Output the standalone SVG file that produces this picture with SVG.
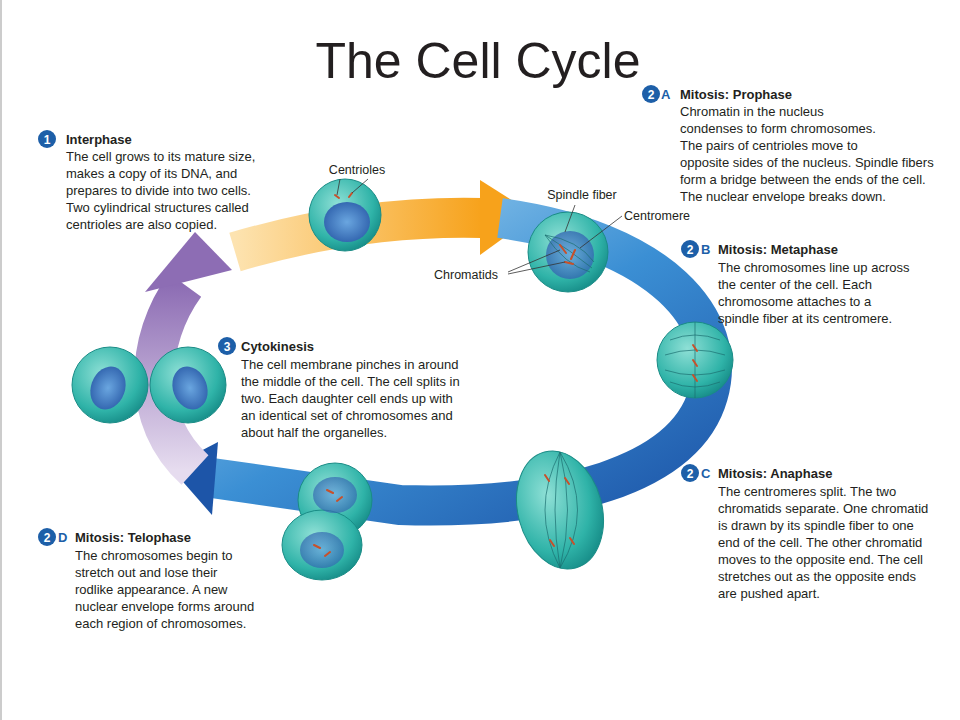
<svg xmlns="http://www.w3.org/2000/svg" width="960" height="720" viewBox="0 0 960 720">
<defs>
<linearGradient id="og" x1="0" y1="0" x2="1" y2="0"><stop offset="0" stop-color="#fde3b0"/><stop offset="1" stop-color="#f7a21b"/></linearGradient>
<linearGradient id="bg" x1="0" y1="0" x2="1" y2="1"><stop offset="0" stop-color="#a9d8f3"/><stop offset="0.5" stop-color="#3b8fd4"/><stop offset="1" stop-color="#1d55a8"/></linearGradient>
<linearGradient id="pg" x1="0" y1="1" x2="0" y2="0"><stop offset="0" stop-color="#e6dcef"/><stop offset="1" stop-color="#8d6db4"/></linearGradient>
<radialGradient id="cell" cx="0.4" cy="0.35" r="0.7"><stop offset="0" stop-color="#8fe0d6"/><stop offset="0.7" stop-color="#2fb3a8"/><stop offset="1" stop-color="#158a86"/></radialGradient>
<radialGradient id="nuc" cx="0.5" cy="0.5" r="0.6"><stop offset="0" stop-color="#6aa6e0"/><stop offset="1" stop-color="#2a5ca8"/></radialGradient>
<style>
text{font-family:"Liberation Sans",Arial,sans-serif;fill:#231f20}
.b{font-size:13px}
.h{font-size:13px;font-weight:bold}
.n{font-size:12px;font-weight:bold;fill:#fff}
.l{font-size:12.5px}
.num{fill:#1d5fa8}
.cell{fill:url(#cell);stroke:#1a8c86;stroke-width:1}
.ld{stroke:#333;stroke-width:0.8;fill:none}
.fib{stroke:#1b6f70;stroke-width:0.7;fill:none}
.chr{stroke:#c8502a;stroke-width:2;stroke-linecap:round}
</style>
</defs>
<rect width="960" height="720" fill="#fff"/>
<line x1="1" y1="0" x2="1" y2="720" stroke="#999"/>
<text x="478" y="78" text-anchor="middle" style="font-size:50px">The Cell Cycle</text>
<g id="connectors">
<path d="M235,252 Q360,215 482,218" stroke="url(#og)" stroke-width="40" fill="none"/>
<polygon points="480,180 535,215 480,255" fill="#f7a21b"/>
<path d="M500,218 C660,240 730,320 708,395 C685,475 560,510 400,505 L212,478" stroke="url(#bg)" stroke-width="40" fill="none"/>
<polygon points="218,442 170,467 212,515" fill="#1d55a8"/>
<path d="M195,470 C140,420 145,340 185,285" stroke="url(#pg)" stroke-width="40" fill="none"/>
<polygon points="145,292 195,232 232,270" fill="#8d6db4"/>
</g>
<g id="cell-interphase">
<circle class="cell" cx="345" cy="215" r="36"/>
<ellipse cx="347" cy="222" rx="23" ry="20" fill="url(#nuc)"/>
<path class="chr" d="M335,195 l4,3 M352,193 l-3,4" stroke-width="1.5"/>
<text x="357" y="174" text-anchor="middle" class="l">Centrioles</text>
<path class="ld" d="M340,179 L337,195 M368,179 L352,193"/>
</g>
<g id="cell-prophase">
<circle class="cell" cx="568" cy="252" r="40"/>
<circle cx="570" cy="255" r="24" fill="url(#nuc)" opacity="0.8"/>
<path class="fib" d="M545,235 Q570,250 592,268 M545,235 Q565,265 590,272 M545,235 Q578,240 594,262"/>
<path class="chr" d="M560,245 l6,8 M575,250 l-4,9 M565,262 l8,2"/>
<text x="582" y="199" text-anchor="middle" class="l">Spindle fiber</text>
<text x="624" y="220" class="l">Centromere</text>
<text x="434" y="279" class="l">Chromatids</text>
<path class="ld" d="M575,205 L565,232 M622,216 L580,248 M508,272 L560,250 M508,274 L565,262"/>
</g>
<g id="cell-metaphase">
<circle class="cell" cx="695" cy="360" r="38"/>
<path class="fib" d="M670,340 Q695,330 720,340 M665,355 Q695,345 725,355 M665,370 Q695,380 725,370 M670,382 Q695,392 720,382 M695,322 L695,398"/>
<path class="chr" d="M693,345 l4,6 M693,360 l4,6 M693,375 l4,6"/>
</g>
<g id="cell-anaphase">
<ellipse class="cell" cx="560" cy="510" rx="42" ry="60" transform="rotate(-15 560 510)"/>
<path class="fib" d="M560,452 Q530,510 560,568 M560,452 Q550,510 560,568 M560,452 Q575,510 560,568 M560,452 Q595,510 560,568"/>
<path class="chr" d="M545,475 l4,6 M565,478 l4,6 M550,540 l4,6 M570,538 l4,6"/>
</g>
<g id="cell-telophase">
<ellipse class="cell" cx="335" cy="500" rx="37" ry="37"/>
<ellipse class="cell" cx="322" cy="545" rx="40" ry="35"/>
<ellipse cx="335" cy="495" rx="22" ry="18" fill="url(#nuc)" opacity="0.7"/>
<ellipse cx="322" cy="550" rx="22" ry="18" fill="url(#nuc)" opacity="0.7"/>
<path class="chr" d="M327,490 l6,3 M342,497 l-5,4 M314,545 l6,3 M330,552 l-5,4"/>
</g>
<g id="cell-cytokinesis">
<circle class="cell" cx="110" cy="385" r="38"/>
<circle class="cell" cx="188" cy="385" r="38"/>
<ellipse cx="108" cy="388" rx="17" ry="22" fill="url(#nuc)" transform="rotate(20 108 388)"/>
<ellipse cx="190" cy="388" rx="17" ry="22" fill="url(#nuc)" transform="rotate(-20 190 388)"/>
</g>
<g id="text-interphase">
<circle class="num" cx="47" cy="139" r="9"/><text x="47" y="143.5" text-anchor="middle" class="n">1</text>
<text x="66" y="144" class="h">Interphase</text>
<text class="b"><tspan x="66" y="161">The cell grows to its mature size,</tspan><tspan x="66" y="178">makes a copy of its DNA, and</tspan><tspan x="66" y="195">prepares to divide into two cells.</tspan><tspan x="66" y="212">Two cylindrical structures called</tspan><tspan x="66" y="229">centrioles are also copied.</tspan></text>
</g>
<g id="text-prophase">
<circle class="num" cx="651" cy="94" r="9"/><text x="651" y="98.5" text-anchor="middle" class="n">2</text><text x="661" y="99" class="h" style="fill:#1d5fa8">A</text>
<text x="680" y="99" class="h">Mitosis: Prophase</text>
<text class="b"><tspan x="680" y="116">Chromatin in the nucleus</tspan><tspan x="680" y="133">condenses to form chromosomes.</tspan><tspan x="680" y="150">The pairs of centrioles move to</tspan><tspan x="680" y="167">opposite sides of the nucleus. Spindle fibers</tspan><tspan x="680" y="184">form a bridge between the ends of the cell.</tspan><tspan x="680" y="201">The nuclear envelope breaks down.</tspan></text>
</g>
<g id="text-metaphase">
<circle class="num" cx="690" cy="249" r="9"/><text x="690" y="253.5" text-anchor="middle" class="n">2</text><text x="701" y="254" class="h" style="fill:#1d5fa8">B</text>
<text x="718" y="254" class="h">Mitosis: Metaphase</text>
<text class="b"><tspan x="718" y="272">The chromosomes line up across</tspan><tspan x="718" y="289">the center of the cell. Each</tspan><tspan x="718" y="306">chromosome attaches to a</tspan><tspan x="718" y="323">spindle fiber at its centromere.</tspan></text>
</g>
<g id="text-anaphase">
<circle class="num" cx="690" cy="473" r="9"/><text x="690" y="477.5" text-anchor="middle" class="n">2</text><text x="701" y="478" class="h" style="fill:#1d5fa8">C</text>
<text x="718" y="478" class="h">Mitosis: Anaphase</text>
<text class="b"><tspan x="718" y="496">The centromeres split. The two</tspan><tspan x="718" y="513">chromatids separate. One chromatid</tspan><tspan x="718" y="530">is drawn by its spindle fiber to one</tspan><tspan x="718" y="547">end of the cell. The other chromatid</tspan><tspan x="718" y="564">moves to the opposite end. The cell</tspan><tspan x="718" y="581">stretches out as the opposite ends</tspan><tspan x="718" y="598">are pushed apart.</tspan></text>
</g>
<g id="text-telophase">
<circle class="num" cx="47" cy="537" r="9"/><text x="47" y="541.5" text-anchor="middle" class="n">2</text><text x="58" y="542" class="h" style="fill:#1d5fa8">D</text>
<text x="75" y="542" class="h">Mitosis: Telophase</text>
<text class="b"><tspan x="75" y="560">The chromosomes begin to</tspan><tspan x="75" y="577">stretch out and lose their</tspan><tspan x="75" y="594">rodlike appearance. A new</tspan><tspan x="75" y="611">nuclear envelope forms around</tspan><tspan x="75" y="628">each region of chromosomes.</tspan></text>
</g>
<g id="text-cytokinesis">
<circle class="num" cx="227" cy="346" r="9"/><text x="227" y="350.5" text-anchor="middle" class="n">3</text>
<text x="241" y="351" class="h">Cytokinesis</text>
<text class="b"><tspan x="241" y="369">The cell membrane pinches in around</tspan><tspan x="241" y="386">the middle of the cell. The cell splits in</tspan><tspan x="241" y="403">two. Each daughter cell ends up with</tspan><tspan x="241" y="420">an identical set of chromosomes and</tspan><tspan x="241" y="437">about half the organelles.</tspan></text>
</g>
</svg>
